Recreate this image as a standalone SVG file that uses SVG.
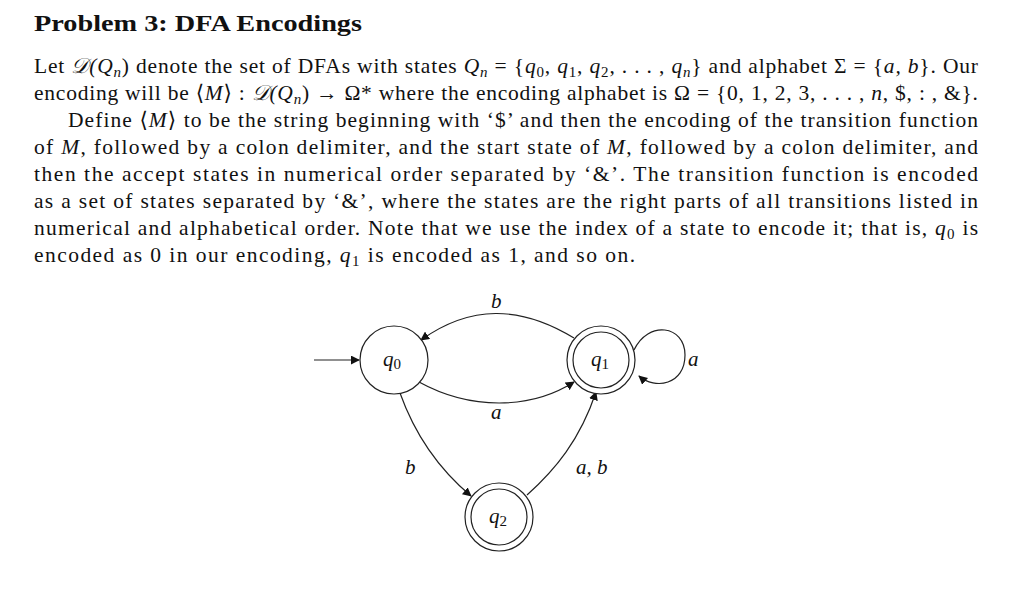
<svg xmlns="http://www.w3.org/2000/svg" width="1024" height="599" viewBox="0 0 1024 599">
<style>
text{font-family:"Liberation Serif","DejaVu Serif",serif;fill:#111}
.p{font-size:21.5px}
.i{font-style:italic}
.st{fill:#fff;stroke:#222;stroke-width:1.2}
.e{fill:none;stroke:#222;stroke-width:1.2;marker-end:url(#ah)}
.lb{font-size:21px;font-style:italic}
.nl{font-size:21px;font-style:italic}
</style>
<defs><marker id="ah" viewBox="0 0 10 10" refX="9" refY="5" markerWidth="9" markerHeight="9" markerUnits="userSpaceOnUse" orient="auto"><path d="M0,0L10,5L0,10z" fill="#111"/></marker></defs>
<rect width="1024" height="599" fill="#fff"/>
<text x="34" y="31" font-size="24" font-weight="bold" textLength="328" lengthAdjust="spacingAndGlyphs">Problem 3: DFA Encodings</text>
<g class="p">
<text x="34" y="73" textLength="944" lengthAdjust="spacing">Let <tspan class="i">𝒟(Q</tspan><tspan class="i" font-size="15" dy="4">n</tspan><tspan dy="-4">) denote the set of DFAs with states </tspan><tspan class="i">Q</tspan><tspan class="i" font-size="15" dy="4">n</tspan><tspan dy="-4"> = {</tspan><tspan class="i">q</tspan><tspan font-size="15" dy="4">0</tspan><tspan dy="-4">, </tspan><tspan class="i">q</tspan><tspan font-size="15" dy="4">1</tspan><tspan dy="-4">, </tspan><tspan class="i">q</tspan><tspan font-size="15" dy="4">2</tspan><tspan dy="-4">, . . . , </tspan><tspan class="i">q</tspan><tspan class="i" font-size="15" dy="4">n</tspan><tspan dy="-4">} and alphabet Σ = {</tspan><tspan class="i">a, b</tspan>}. Our</text>
<text x="34" y="100" textLength="944" lengthAdjust="spacing">encoding will be ⟨<tspan class="i">M</tspan>⟩ : <tspan class="i">𝒟(Q</tspan><tspan class="i" font-size="15" dy="4">n</tspan><tspan dy="-4">) → Ω* where the encoding alphabet is Ω = {0, 1, 2, 3, . . . , </tspan><tspan class="i">n</tspan>, $, : , &amp;}.</text>
<text x="68" y="127" textLength="910" lengthAdjust="spacing">Define ⟨<tspan class="i">M</tspan>⟩ to be the string beginning with ‘$’ and then the encoding of the transition function</text>
<text x="34" y="154" textLength="944" lengthAdjust="spacing">of <tspan class="i">M</tspan>, followed by a colon delimiter, and the start state of <tspan class="i">M</tspan>, followed by a colon delimiter, and</text>
<text x="34" y="181" textLength="944" lengthAdjust="spacing">then the accept states in numerical order separated by ‘&amp;’.  The transition function is encoded</text>
<text x="34" y="208" textLength="944" lengthAdjust="spacing">as a set of states separated by ‘&amp;’, where the states are the right parts of all transitions listed in</text>
<text x="34" y="235" textLength="944" lengthAdjust="spacing">numerical and alphabetical order. Note that we use the index of a state to encode it; that is, <tspan class="i">q</tspan><tspan font-size="15" dy="4">0</tspan><tspan dy="-4"> is</tspan></text>
<text x="34" y="262" textLength="601" lengthAdjust="spacing">encoded as 0 in our encoding, <tspan class="i">q</tspan><tspan font-size="15" dy="4">1</tspan><tspan dy="-4"> is encoded as 1, and so on.</tspan></text>
</g>
<g id="edges">
<path class="e" d="M314,360H359"/>
<path class="e" d="M574,338C520,305 470,305 421,340"/>
<path class="e" d="M419,382C470,410 530,410 574,382"/>
<path class="e" d="M400,393C415,435 440,470 471,496"/>
<path class="e" d="M527,495C555,470 580,440 596,392"/>
<path class="e" d="M634,350C648,320 685,325 685,355C685,385 655,390 639,376"/>
</g>
<g id="labels">
<text class="lb" x="491" y="308">b</text>
<text class="lb" x="491" y="419">a</text>
<text class="lb" x="405" y="474">b</text>
<text class="lb" x="576" y="474">a, b</text>
<text class="lb" x="688" y="366">a</text>
</g>
<g id="q0"><circle class="st" cx="394" cy="360" r="34"/><text class="nl" x="383" y="366">q<tspan font-size="15" font-style="normal" dy="3">0</tspan></text></g>
<g id="q1"><circle class="st" cx="601" cy="360" r="34"/><circle class="st" cx="601" cy="360" r="28"/><text class="nl" x="591" y="366">q<tspan font-size="15" font-style="normal" dy="3">1</tspan></text></g>
<g id="q2"><circle class="st" cx="499" cy="517" r="34"/><circle class="st" cx="499" cy="517" r="28"/><text class="nl" x="489" y="523">q<tspan font-size="15" font-style="normal" dy="3">2</tspan></text></g>
</svg>
